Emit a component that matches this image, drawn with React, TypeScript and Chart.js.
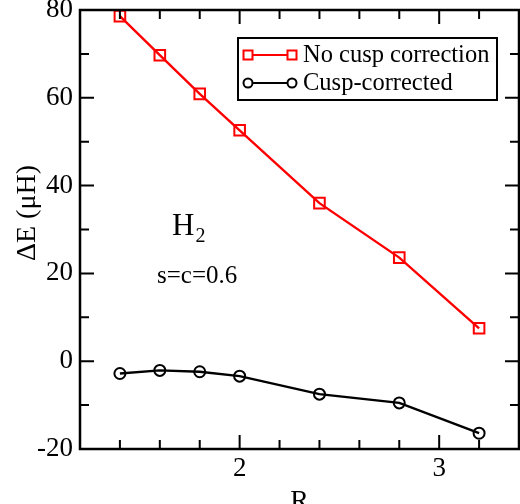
import { useEffect, useRef } from "react";
import { Chart, registerables } from "chart.js";
Chart.register(...registerables);

const rValues = [1.4, 1.6, 1.8, 2.0, 2.4, 2.8, 3.2];
const noCusp = [78.6, 69.7, 60.9, 52.6, 36.0, 23.6, 7.5];
const cuspCorrected = [-2.8, -2.1, -2.4, -3.4, -7.5, -9.5, -16.4];
const seriesNames = ["No cusp correction", "Cusp-corrected"];
const seriesColors = ["#ff0000", "#000000"];
const xMajor = [2, 3];
const xMinor = [1.4, 1.6, 1.8, 2.2, 2.4, 2.6, 2.8, 3.2];
const yMajor = [-20, 0, 20, 40, 60, 80];
const yMinor = [-10, 10, 30, 50, 70];

const SERIF = "'Liberation Serif', 'DejaVu Serif', serif";

// frame with inward ticks on all four sides, plus legend and text labels
const framePlugin = {
  id: "frame",
  afterDraw(chart: any) {
    const { ctx, chartArea: a, scales } = chart;
    const xs = scales.x, ys = scales.y;
    ctx.save();
    ctx.strokeStyle = "#000";
    ctx.lineWidth = 2.5;
    ctx.strokeRect(a.left, a.top, a.right - a.left, a.bottom - a.top);
    ctx.lineWidth = 2;
    const tick = (vals: number[], len: number, horiz: boolean) => {
      for (const v of vals) {
        ctx.beginPath();
        if (horiz) {
          const px = xs.getPixelForValue(v);
          ctx.moveTo(px, a.bottom); ctx.lineTo(px, a.bottom - len);
          ctx.moveTo(px, a.top); ctx.lineTo(px, a.top + len);
        } else {
          const py = ys.getPixelForValue(v);
          ctx.moveTo(a.left, py); ctx.lineTo(a.left + len, py);
          ctx.moveTo(a.right, py); ctx.lineTo(a.right - len, py);
        }
        ctx.stroke();
      }
    };
    tick(xMajor, 14, true);
    tick(xMinor, 9, true);
    tick(yMajor, 14, false);
    tick(yMinor, 9, false);

    // axis titles
    ctx.fillStyle = "#000";
    ctx.font = `28px ${SERIF}`;
    ctx.textAlign = "center";
    ctx.textBaseline = "alphabetic";
    ctx.fillText("R", (a.left + a.right) / 2, 509);
    ctx.save();
    ctx.translate(35, 213);
    ctx.rotate(-Math.PI / 2);
    ctx.fillText("\u0394E (\u03bcH)", 0, 0);
    ctx.restore();

    // annotations
    ctx.textAlign = "left";
    ctx.font = `31px ${SERIF}`;
    ctx.fillText("H", 172, 235);
    const hw = ctx.measureText("H").width;
    ctx.font = `20px ${SERIF}`;
    ctx.fillText("2", 172 + hw + 1, 242);
    ctx.font = `25px ${SERIF}`;
    ctx.fillText("s=c=0.6", 157, 283);

    // legend
    ctx.lineWidth = 2;
    ctx.strokeRect(238, 38, 259, 62);
    const rows = [55, 83];
    seriesNames.forEach((name, i) => {
      const y = rows[i];
      ctx.strokeStyle = seriesColors[i];
      ctx.beginPath();
      ctx.moveTo(248, y); ctx.lineTo(292, y);
      ctx.stroke();
      for (const mx of [248, 292]) {
        ctx.beginPath();
        if (i === 0) ctx.rect(mx - 4.5, y - 4.5, 9, 9);
        else ctx.arc(mx, y, 4.5, 0, Math.PI * 2);
        ctx.fillStyle = "#fff";
        ctx.fill();
        ctx.stroke();
      }
      ctx.fillStyle = "#000";
      ctx.font = `24.5px ${SERIF}`;
      ctx.fillText(name, 303, y + 7);
    });
    ctx.restore();
  },
};

function EnergyChart() {
  const ref = useRef<HTMLCanvasElement>(null);
  const inst = useRef<Chart | null>(null);
  useEffect(() => {
    document.body.style.margin = "0";
    if (!ref.current) return;
    inst.current = new Chart(ref.current, {
      type: "line",
      data: {
        labels: rValues,
        datasets: [
          {
            label: seriesNames[0],
            data: rValues.map((x, i) => ({ x, y: noCusp[i] })),
            borderColor: seriesColors[0], borderWidth: 2.4,
            pointStyle: "rect", pointRadius: 7.5, pointBorderWidth: 2,
            pointBorderColor: seriesColors[0], pointBackgroundColor: "rgba(0,0,0,0)",
            tension: 0,
          },
          {
            label: seriesNames[1],
            data: rValues.map((x, i) => ({ x, y: cuspCorrected[i] })),
            borderColor: seriesColors[1], borderWidth: 2.4,
            pointStyle: "circle", pointRadius: 5.5, pointBorderWidth: 2,
            pointBorderColor: seriesColors[1], pointBackgroundColor: "rgba(0,0,0,0)",
            tension: 0,
          },
        ],
      },
      options: {
        responsive: false,
        animation: false,
        layout: { autoPadding: false, padding: { top: 10, right: 1, left: 0, bottom: 0 } },
        plugins: { legend: { display: false }, tooltip: { enabled: false } },
        scales: {
          x: {
            type: "linear", min: 1.2, max: 3.4,
            grid: { display: false, drawTicks: false }, border: { display: false },
            afterBuildTicks: (s: any) => { s.ticks = xMajor.map((v) => ({ value: v })); },
            afterFit: (s: any) => { s.height = 55; s.paddingLeft = 0; s.paddingRight = 0; },
            ticks: { color: "#000", font: { family: SERIF, size: 27 }, padding: 4, maxRotation: 0 },
          },
          y: {
            type: "linear", min: -20, max: 80,
            grid: { display: false, drawTicks: false }, border: { display: false },
            afterBuildTicks: (s: any) => { s.ticks = yMajor.map((v) => ({ value: v })); },
            afterFit: (s: any) => { s.width = 80; s.paddingTop = 0; s.paddingBottom = 0; },
            ticks: { color: "#000", font: { family: SERIF, size: 27 }, padding: 7 },
          },
        },
      },
      plugins: [framePlugin],
    });
    return () => inst.current?.destroy();
  }, []);
  return <canvas ref={ref} width={520} height={504} style={{ display: "block" }} />;
}

export default function App() {
  return <EnergyChart />;
}
